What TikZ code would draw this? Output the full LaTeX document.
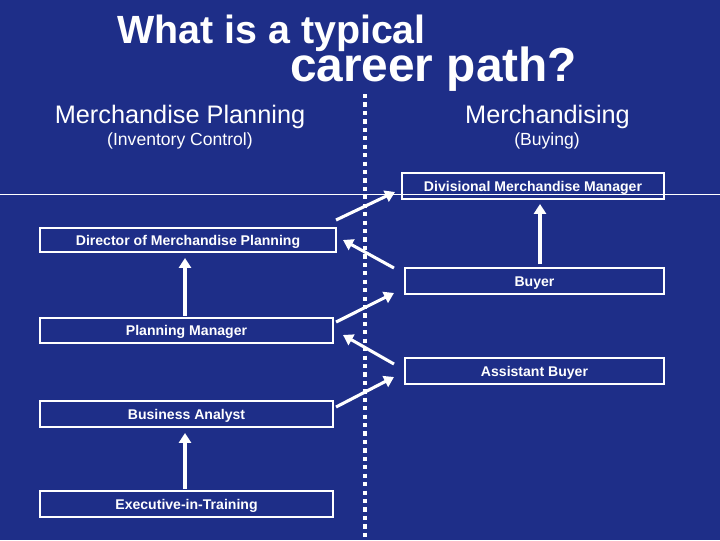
\documentclass[tikz,border=0pt]{standalone}
\usepackage{fontspec}
\setmainfont{Liberation Sans}
\usetikzlibrary{positioning,arrows.meta,calc}
\definecolor{slidebg}{HTML}{1E2E88}
\definecolor{ink}{HTML}{FFFFFF}

\begin{document}
\begin{tikzpicture}[
  x=0.025cm, y=-0.025cm,
  txt/.style={text=ink, inner sep=0pt, anchor=base},
  rung/.style={draw=ink, line width=1.4pt, inner sep=0pt, text=ink,
               text height=1.65ex, text depth=0.2ex,
               font=\fontsize{10}{12}\selectfont\bfseries},
  up/.style={-{Triangle[width=8.5pt,length=7pt]}, line width=2.2pt, draw=ink},
  move/.style={-{Triangle[width=8.5pt,length=7pt]}, line width=2.2pt, draw=ink},
  divider/.style={draw=ink, line width=3pt, dash pattern=on 3pt off 3pt},
]
\fill[slidebg] (0,0) rectangle (720,540);
\useasboundingbox (0,0) rectangle (720,540);

% ===== title =====
\node[txt, font=\fontsize{28}{30}\selectfont\bfseries] (title1) at (271.5,43) {What is a typical};
\node[txt, font=\fontsize{34}{36}\selectfont\bfseries] (title2) at (433.5,81) {career path?};

% ===== column heads =====
\node[txt, font=\fontsize{18}{20}\selectfont] (lhead) at (180,123) {Merchandise Planning};
\node[txt, font=\fontsize{12.5}{14}\selectfont] (lsub) at (180,145) {(Inventory Control)};
\node[txt, font=\fontsize{18}{20}\selectfont] (rhead) at (547.5,123) {Merchandising};
\node[txt, font=\fontsize{12.5}{14}\selectfont] (rsub) at (547,145) {(Buying)};

% ===== rules =====
\coordinate (divtop) at (365,94);
\coordinate (divbot) at (365,540);
\draw[divider] (divtop) -- (divbot);
\coordinate (hl) at (0,194);
\coordinate (hr) at (720,194);
\draw[draw=ink, line width=0.7pt] (hl) -- (hr);

% ===== planning ladder (left) =====
\node[rung, minimum width=7.4cm, minimum height=0.6cm] (dir) at (188,240) {Director of Merchandise Planning};
\node[rung, minimum width=7.325cm, minimum height=0.625cm] (pm) at (186.5,330.5) {Planning Manager};
\node[rung, minimum width=7.325cm, minimum height=0.65cm] (ba) at (186.5,414) {Business Analyst};
\node[rung, minimum width=7.325cm, minimum height=0.65cm] (eit) at (186.5,504) {Executive-in-Training};

% ===== buying ladder (right) =====
\node[rung, minimum width=6.55cm, minimum height=0.65cm] (dmm) at (533,186) {Divisional Merchandise Manager};
\node[rung, minimum width=6.475cm, minimum height=0.65cm] (buy) at (534.5,281) {Buyer};
\node[rung, minimum width=6.475cm, minimum height=0.65cm] (ab) at (534.5,371) {Assistant Buyer};

% ===== promotions within a track =====
\draw[up] ($(buy.north)+(5.5,-3)$) -- ($(buy.north |- dmm.south)+(5.5,4)$);
\draw[up] ($(pm.north)+(-1.5,-1)$) -- ($(pm.north |- dir.south)+(-1.5,5)$);
\draw[up] ($(eit.north)+(-1.5,-1)$) -- ($(eit.north |- ba.south)+(-1.5,5)$);

% ===== moves across tracks =====
\draw[move] ([shift={(-1,-7)}]dir.north east) -- ([shift={(-6,-8)}]dmm.south west);
\draw[move] ([shift={(-10,1)}]buy.north west) -- ([shift={(6,0)}]dir.east);
\draw[move] ([shift={(2,5)}]pm.north east) -- ([shift={(-10,-2)}]buy.south west);
\draw[move] ([shift={(-10,7)}]ab.north west) -- ([shift={(9,4.5)}]pm.east);
\draw[move] ([shift={(2,7)}]ba.north east) -- ([shift={(-10,6)}]ab.west);

\end{tikzpicture}
\end{document}
